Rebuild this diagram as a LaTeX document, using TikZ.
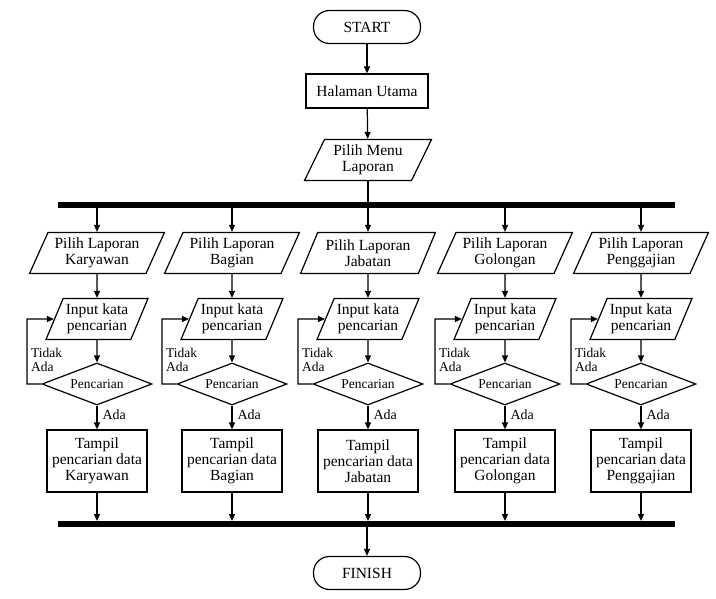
\documentclass[tikz,border=0pt]{standalone}
\usepackage{fontspec}
\setmainfont{Liberation Serif}
\usetikzlibrary{shapes.geometric,arrows.meta}
\begin{document}
\begin{tikzpicture}[x=1pt,y=-1pt,
 font=\fontsize{15.5}{16}\selectfont,
 every node/.style={align=center, inner sep=1pt},
 lw/.style={line width=1.2pt},
 term/.style={draw,lw,rounded corners=16pt,minimum width=107pt,minimum height=33pt},
 box/.style={draw,lw,minimum width=#1,minimum height=34pt},
 para/.style={draw,lw,trapezium,trapezium left angle=63,trapezium right angle=117,trapezium stretches=true,minimum width=#1,minimum height=41pt},
 dia/.style={draw,lw,diamond,aspect=2.6,minimum width=110pt,minimum height=42pt,font=\fontsize{13.5}{14}\selectfont},
 arr/.style={-{Triangle[length=7pt,width=6pt]},lw},
 bar/.style={line width=6pt}]
\useasboundingbox (0,0) rectangle (716,599);
\node[term] (start) at (367,27) {START};
\node[box=122pt] (hu) at (367,91) {Halaman Utama};
\node[para=127pt] (pm) at (368,160) {Pilih Menu\\Laporan};
\coordinate (b1l) at (58,205); \coordinate (b1r) at (675,205);
\coordinate (b2l) at (58,524); \coordinate (b2r) at (675,524);
\draw[bar] (b1l) -- (b1r);
\draw[bar] (b2l) -- (b2r);
\node[term] (fin) at (367,573) {FINISH};
\draw[arr] (start) -- (hu);
\draw[arr] (hu) -- (pm);
\coordinate (t0) at (368,202);
\draw[lw] (pm) -- (t0);
\coordinate (b0) at (367,527);
\draw[arr] (b0) -- (fin);
\foreach \i/\x/\name in {1/97/Karyawan,2/232/Bagian,3/368/Jabatan,4/505/Golongan,5/641/Penggajian}{
 \coordinate (top\i) at (\x,208);
 \node[para=135pt] (pl\i) at (\x,253) {Pilih Laporan\\\name};
 \node[para=102pt] (in\i) at (\x,319) {Input kata\\pencarian};
 \node[dia] (d\i) at (\x,384) {Pencarian};
 \node[box=100pt,minimum height=62pt] (tp\i) at (\x,461) {Tampil\\pencarian data\\\name};
 \coordinate (bot\i) at (\x,521);
 \coordinate (lp\i) at (\x-70,384);
 \coordinate (lq\i) at (\x-70,319);
 \draw[arr] (top\i) -- (pl\i);
 \draw[arr] (pl\i) -- (in\i);
 \draw[arr] (in\i) -- (d\i);
 \draw[arr] (d\i) -- node[right=4pt,pos=0.4,font=\fontsize{14}{15}\selectfont]{Ada} (tp\i);
 \draw[arr] (tp\i) -- (bot\i);
 \draw[arr] (d\i.west) -- (lp\i) -- (lq\i) -- (in\i.west);
 \node[anchor=north west,align=left,font=\fontsize{13.5}{14}\selectfont] (td\i) at (\x-67,347) {Tidak\\Ada};
}
\end{tikzpicture}
\end{document}
